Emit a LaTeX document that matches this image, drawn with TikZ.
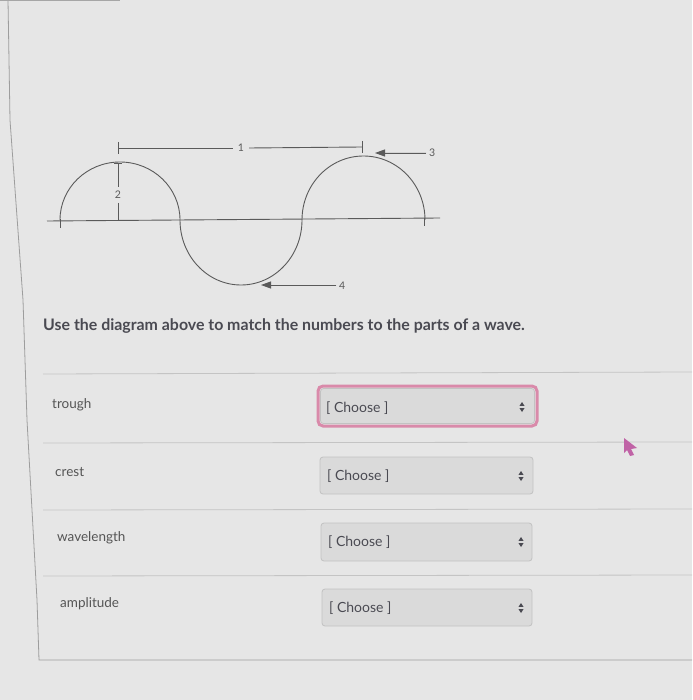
\documentclass[tikz,border=0pt]{standalone}
\usepackage{fontspec}
\setmainfont{Lato}
\usetikzlibrary{arrows.meta}
\definecolor{bg}{HTML}{E6E6E6}
\definecolor{wave}{HTML}{5A5A5A}
\definecolor{txt}{HTML}{4A4A52}
\definecolor{lbl}{HTML}{555555}
\definecolor{sep}{HTML}{C4C4C4}
\definecolor{ddfill}{HTML}{DADADA}
\definecolor{ddline}{HTML}{C2C2C2}
\definecolor{pinkb}{HTML}{D98AAA}
\definecolor{cursor}{HTML}{C063A6}
\tikzset{
  wv/.style={draw=wave, line width=0.9pt},
  num/.style={font=\fontsize{10.5}{12}\selectfont, text=wave, inner sep=0pt},
  lab/.style={font=\fontsize{13.5}{15}\selectfont, text=lbl, anchor=west, inner sep=0pt},
  sepl/.style={draw=sep, line width=0.8pt},
  dd/.style={draw=ddline, fill=ddfill, rounded corners=3pt, line width=0.8pt},
  choose/.style={font=\fontsize{14}{16}\selectfont, text=txt, anchor=west, inner sep=0pt},
  tipL/.style={-{Triangle[length=10pt,width=7pt]}}
}
\begin{document}
\begin{tikzpicture}[x=1pt,y=-1pt]
\useasboundingbox (0,0) rectangle (692,700);
\fill[bg] (0,0) rectangle (692,700);
% panel frame
\draw[draw=sep!80!black, line width=0.8pt] (8,0) -- (10,120) -- (23,300) -- (27,420) -- (37,600) -- (39,660) -- (692,660);
\draw[draw=gray!70, line width=1.2pt] (0,0.6) -- (120,0.6);
% axis
\draw[wv] (47,221) -- (440,218);
\draw[wv] (60,219) -- (60,228);
\draw[wv] (424,218) -- (424,226);
% wave
\draw[wv] (60,220) arc[start angle=180,end angle=360,x radius=60,y radius=58]
  arc[start angle=180,end angle=0,x radius=61,y radius=65]
  arc[start angle=180,end angle=360,x radius=61.5,y radius=64];
% 1
\node[num] (n1) at (241,148) {1};
\draw[wv] (118,148) -- (233,148);
\draw[wv] (249,148) -- (362,147);
\draw[wv] (118,142) -- (118,154);
\draw[wv] (362,141) -- (362,153);
% 2
\node[num] (n2) at (118,195) {2};
\draw[wv] (114,163) -- (122,163);
\draw[wv] (118,163) -- (118,187);
\draw[wv] (118,203) -- (118,220);
\draw[wv] (114,220) -- (122,220);
% 3
\node[num, anchor=west] (n3) at (429,153) {3};
\coordinate (a3) at (426,153);
\coordinate (b3) at (375,153);
\draw[wv, tipL, fill=wave] (a3) -- (b3);
% 4
\node[num, anchor=west] (n4) at (339,286) {4};
\coordinate (a4) at (336,285);
\coordinate (b4) at (261,285);
\draw[wv, tipL, fill=wave] (a4) -- (b4);
% question
\node[font=\bfseries\fontsize{15.9}{18}\selectfont, text=txt, anchor=west, inner sep=0pt] (q) at (43,326) {Use the diagram above to match the numbers to the parts of a wave.};
% separators
\draw[sepl] (43,374) -- (692,372);
\draw[sepl] (43,443) -- (692,442);
\draw[sepl] (43,510) -- (692,509);
\draw[sepl] (43,576) -- (692,575);
% labels
\node[lab] (l1) at (52,405) {trough};
\node[lab] (l2) at (55,472) {crest};
\node[lab] (l3) at (57,538) {wavelength};
\node[lab] (l4) at (60,604) {amplitude};
% dropdowns
\draw[pinkb, line width=3pt, rounded corners=5pt] (318,386) rectangle (537,426);
\draw[dd] (320.5,388.5) rectangle (534.5,423.5);
\draw[dd] (320,457) rectangle (533,494);
\draw[dd] (321,523) rectangle (532,561);
\draw[dd] (322,589) rectangle (532,626);
\node[choose] (c1) at (326,408) {[ Choose ]};
\node[choose] (c2) at (327,476) {[ Choose ]};
\node[choose] (c3) at (328,542) {[ Choose ]};
\node[choose] (c4) at (329,608) {[ Choose ]};
\foreach \x/\y in {522/407, 521/476, 521/542, 521/608}{
  \fill[txt] (\x-2.5,\y-1.2) -- (\x+2.5,\y-1.2) -- (\x,\y-5) -- cycle;
  \fill[txt] (\x-2.5,\y+1.2) -- (\x+2.5,\y+1.2) -- (\x,\y+5) -- cycle;
}
% cursor
\fill[cursor] (624,438) -- (637,448) -- (631,449) -- (634,455) -- (630,456) -- (627,450) -- (624,453) -- cycle;
\end{tikzpicture}
\end{document}
